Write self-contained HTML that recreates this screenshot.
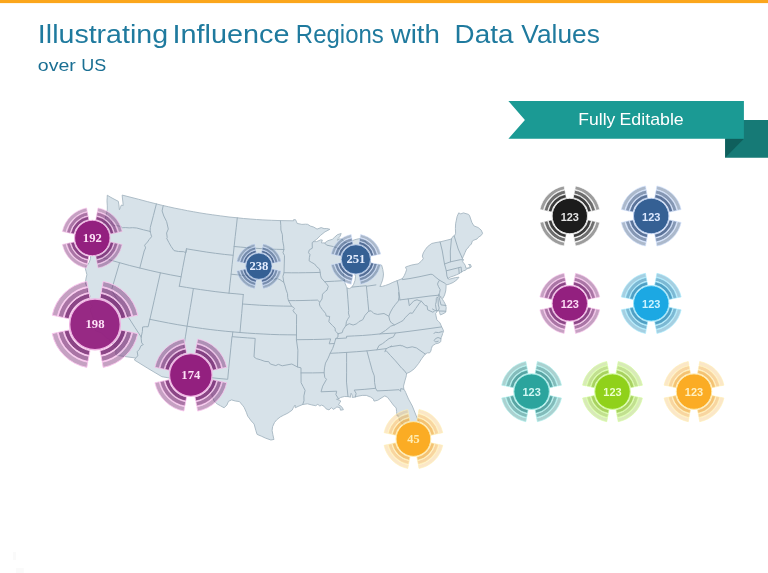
<!DOCTYPE html>
<html lang="en"><head><meta charset="utf-8"><title>Illustrating Influence Regions with Data Values</title>
<style>
html,body{margin:0;padding:0;background:#fff;}
body{width:768px;height:573px;overflow:hidden;position:relative;font-family:"Liberation Sans",sans-serif;}
svg{position:absolute;left:0;top:0;display:block;}
text{font-family:"Liberation Sans",sans-serif;}
text.sf{font-family:"Liberation Serif",serif;font-weight:bold;}
</style></head><body>
<svg width="768" height="573" viewBox="0 0 768 573">
<defs>

<path id="ring0" d="M21.60 4.67A22.1 22.1 0 0 1 4.14 21.71L3.50 18.37A18.7 18.7 0 0 0 18.28 3.95ZM-4.14 21.71A22.1 22.1 0 0 1 -21.60 4.67L-18.28 3.95A18.7 18.7 0 0 0 -3.50 18.37ZM-21.60 -4.67A22.1 22.1 0 0 1 -4.14 -21.71L-3.50 -18.37A18.7 18.7 0 0 0 -18.28 -3.95ZM4.14 -21.71A22.1 22.1 0 0 1 21.60 -4.67L18.28 -3.95A18.7 18.7 0 0 0 3.50 -18.37Z"/>
<path id="ring1" d="M25.75 5.57A26.35 26.35 0 0 1 4.94 25.88L4.25 22.30A22.7 22.7 0 0 0 22.19 4.80ZM-4.94 25.88A26.35 26.35 0 0 1 -25.75 5.57L-22.19 4.80A22.7 22.7 0 0 0 -4.25 22.30ZM-25.75 -5.57A26.35 26.35 0 0 1 -4.94 -25.88L-4.25 -22.30A22.7 22.7 0 0 0 -22.19 -4.80ZM4.94 -25.88A26.35 26.35 0 0 1 25.75 -5.57L22.19 -4.80A22.7 22.7 0 0 0 4.25 -22.30Z"/>
<path id="ring2" d="M29.91 6.47A30.6 30.6 0 0 1 5.73 30.06L5.05 26.47A26.95 26.95 0 0 0 26.34 5.70ZM-5.73 30.06A30.6 30.6 0 0 1 -29.91 6.47L-26.34 5.70A26.95 26.95 0 0 0 -5.05 26.47ZM-29.91 -6.47A30.6 30.6 0 0 1 -5.73 -30.06L-5.05 -26.47A26.95 26.95 0 0 0 -26.34 -5.70ZM5.73 -30.06A30.6 30.6 0 0 1 29.91 -6.47L26.34 -5.70A26.95 26.95 0 0 0 5.05 -26.47Z"/>
</defs>
<rect x="0" y="0" width="768" height="3.1" fill="#FBA61C"/>
<text x="37.88" y="42.7" font-size="25.5" fill="#1F7A9E" textLength="130.17" lengthAdjust="spacingAndGlyphs">Illustrating</text><text x="172.53" y="42.7" font-size="25.5" fill="#1F7A9E" textLength="116.90" lengthAdjust="spacingAndGlyphs">Influence</text><text x="295.82" y="42.7" font-size="25.5" fill="#1F7A9E" textLength="88.02" lengthAdjust="spacingAndGlyphs">Regions</text><text x="390.75" y="42.7" font-size="25.5" fill="#1F7A9E" textLength="49.11" lengthAdjust="spacingAndGlyphs">with</text><text x="454.64" y="42.7" font-size="25.5" fill="#1F7A9E" textLength="58.79" lengthAdjust="spacingAndGlyphs">Data</text><text x="521.36" y="42.7" font-size="25.5" fill="#1F7A9E" textLength="78.53" lengthAdjust="spacingAndGlyphs">Values</text>
<text x="37.84" y="70.9" font-size="16.8" fill="#1A6F93" textLength="38.00" lengthAdjust="spacingAndGlyphs">over</text><text x="81.27" y="70.9" font-size="16.8" fill="#1A6F93" textLength="24.96" lengthAdjust="spacingAndGlyphs">US</text>
<path d="M725.2 120.1H768V157.7H725.2Z" fill="#167A76"/>
<path d="M725.2 138.7H743.9L725.2 157.7Z" fill="#0F5F5C"/>
<path d="M508.4 101.1H743.9V138.7H508.4L524.9 119.9Z" fill="#1B9A94"/>
<text x="578.38" y="124.6" font-size="17" fill="#fff" textLength="36.97" lengthAdjust="spacingAndGlyphs">Fully</text><text x="619.52" y="124.6" font-size="17" fill="#fff" textLength="64.23" lengthAdjust="spacingAndGlyphs">Editable</text>
<rect x="13.1" y="552" width="2.8" height="8" fill="#FAFAFA"/><rect x="16" y="568" width="7.8" height="5" fill="#FAFAFA"/>
<g id="map">
<path d="M107.3 195.2 L110.0 196.9 L114.0 199.1 L118.3 201.3 L118.9 205.0 L119.4 209.8 L120.5 207.2 L121.4 205.0 L123.2 205.6 L122.9 202.0 L122.4 198.0 L122.2 195.1 L138.3 199.2 L147.3 201.6 L156.4 203.9 L162.4 205.4 L168.7 206.8 L174.9 208.2 L181.2 209.4 L187.5 210.7 L193.7 211.8 L199.9 212.9 L206.2 213.9 L212.5 214.8 L220.7 215.9 L229.0 217.0 L237.3 217.8 L243.7 218.5 L250.1 219.0 L256.5 219.5 L262.9 219.9 L271.6 220.3 L280.4 220.6 L287.0 220.7 L293.6 220.8 L293.6 219.7 L295.5 219.7 L296.5 221.8 L297.1 223.4 L301.9 224.4 L305.4 224.2 L307.6 224.3 L310.5 226.1 L313.8 227.1 L317.0 229.1 L321.2 227.6 L324.1 228.6 L326.7 228.5 L329.9 229.3 L324.9 231.9 L320.5 235.4 L316.7 239.3 L313.4 241.7 L316.7 241.6 L320.6 239.9 L322.3 240.0 L321.4 242.9 L324.6 243.0 L327.9 240.7 L332.4 239.3 L334.3 237.5 L337.4 234.7 L341.2 233.5 L340.1 236.2 L338.0 238.7 L337.4 240.3 L339.6 238.8 L342.6 239.6 L344.5 242.3 L347.8 242.7 L351.1 241.4 L354.2 239.9 L358.4 238.8 L360.0 238.5 L360.3 241.0 L363.0 241.0 L365.0 241.0 L366.5 242.7 L368.1 244.9 L365.1 245.4 L362.8 246.8 L360.8 245.5 L357.4 245.3 L354.2 246.9 L352.0 248.5 L350.1 250.4 L349.3 248.7 L347.4 249.4 L345.6 252.3 L344.2 255.8 L342.6 258.3 L341.8 261.2 L344.1 259.1 L345.9 256.1 L347.7 253.8 L347.3 256.5 L345.8 259.9 L345.0 263.3 L344.4 268.2 L343.3 273.0 L343.7 275.9 L344.6 280.6 L345.1 283.4 L346.3 286.4 L347.2 288.2 L349.4 288.6 L351.8 287.2 L353.7 284.2 L355.1 280.2 L355.5 276.3 L354.4 272.6 L352.7 268.9 L352.8 265.1 L353.8 261.2 L354.5 257.3 L356.6 254.9 L357.6 254.1 L357.9 257.5 L359.1 255.4 L359.1 252.6 L361.4 251.6 L360.8 249.3 L362.7 247.6 L366.5 248.6 L369.3 252.0 L370.0 258.0 L370.4 263.6 L374.0 264.6 L378.5 264.4 L381.7 265.3 L382.8 269.5 L383.5 273.9 L383.2 277.0 L382.5 280.2 L381.3 283.5 L379.9 286.5 L382.5 286.3 L385.6 285.4 L389.0 284.2 L392.9 282.3 L397.1 280.7 L402.4 278.6 L404.2 275.8 L405.5 272.8 L406.6 269.7 L405.5 267.1 L408.5 266.0 L411.8 265.0 L415.0 264.4 L418.1 263.9 L421.2 261.3 L423.3 258.7 L422.3 256.1 L423.3 252.9 L425.3 249.6 L427.5 246.7 L431.7 243.5 L436.0 242.5 L440.1 241.9 L446.0 240.4 L451.4 239.0 L452.9 236.4 L454.5 235.9 L455.6 233.3 L455.4 228.5 L455.6 223.8 L457.1 216.5 L458.7 212.9 L460.8 213.9 L463.4 212.9 L468.6 214.4 L469.7 216.0 L471.8 222.3 L473.9 225.9 L478.1 227.5 L481.2 230.1 L482.6 233.3 L481.2 235.4 L478.1 237.5 L477.0 239.0 L473.9 240.1 L472.3 241.1 L471.3 244.3 L469.7 245.3 L468.1 247.9 L466.6 249.0 L465.0 252.6 L463.4 256.3 L462.4 258.4 L463.4 259.5 L462.6 261.8 L464.2 263.7 L465.4 265.7 L465.8 268.1 L469.7 268.1 L471.3 266.9 L470.5 264.5 L468.5 264.5 L470.1 265.7 L469.7 267.3 L466.6 269.2 L465.0 270.4 L463.4 270.8 L461.5 272.0 L459.1 273.6 L456.5 274.8 L453.5 276.0 L450.5 277.0 L447.9 278.5 L449.0 279.3 L452.0 278.5 L455.4 277.6 L459.0 277.2 L456.9 279.8 L453.3 282.4 L449.6 284.0 L446.9 284.8 L446.1 284.1 L446.0 288.0 L445.7 291.0 L444.6 295.0 L442.8 298.5 L441.5 297.3 L439.8 296.0 L439.0 294.8 L440.0 296.8 L441.5 298.5 L442.5 299.3 L443.8 301.5 L445.1 303.8 L446.2 307.5 L445.9 310.5 L445.5 312.4 L443.0 313.8 L440.4 314.9 L439.6 312.6 L438.6 310.2 L437.6 310.6 L436.6 312.4 L435.6 313.5 L435.9 315.2 L436.8 319.6 L438.5 321.5 L439.9 322.7 L441.7 326.9 L442.8 329.0 L443.6 331.2 L442.6 333.5 L442.2 335.2 L440.9 338.1 L440.8 341.6 L438.9 343.0 L435.7 343.8 L432.4 345.8 L431.4 348.5 L430.8 351.2 L429.6 352.9 L427.6 352.8 L425.3 353.9 L421.6 358.8 L418.5 363.6 L414.3 368.8 L410.1 371.9 L406.5 373.5 L406.4 375.6 L404.9 380.8 L403.5 386.1 L403.8 389.2 L405.0 391.0 L405.7 392.5 L408.5 399.0 L412.3 406.0 L415.1 413.0 L417.9 420.0 L420.4 424.0 L421.0 428.1 L421.2 432.1 L420.0 436.3 L418.2 438.3 L414.2 439.4 L412.8 436.0 L410.5 433.1 L407.3 430.9 L404.9 427.7 L402.9 424.7 L400.5 421.7 L398.9 419.0 L399.0 416.2 L397.0 415.8 L396.6 411.5 L396.2 408.0 L393.3 405.0 L390.2 400.8 L387.5 397.3 L384.8 395.9 L382.1 397.5 L377.7 400.3 L374.0 401.1 L373.4 399.0 L370.7 397.1 L366.3 395.4 L362.2 395.4 L358.0 396.2 L355.4 396.9 L352.3 397.5 L352.1 395.0 L351.1 393.2 L350.4 396.1 L350.6 397.2 L348.0 396.6 L344.3 396.5 L340.6 397.5 L338.6 398.9 L336.5 399.3 L339.1 400.1 L340.8 401.0 L339.6 402.9 L338.5 404.9 L341.1 406.2 L342.5 408.0 L343.4 409.7 L340.5 410.2 L339.9 407.7 L336.9 406.9 L335.3 408.2 L333.2 409.4 L331.5 407.6 L329.0 409.9 L326.0 408.8 L324.2 406.4 L321.7 405.1 L319.6 406.1 L317.9 404.1 L315.8 405.7 L311.6 404.9 L307.4 403.8 L302.7 404.5 L298.1 406.4 L295.2 407.8 L295.2 405.0 L293.5 407.3 L292.2 410.1 L287.9 413.1 L283.6 415.2 L280.2 417.0 L276.7 419.8 L274.5 422.5 L272.6 426.7 L272.1 430.5 L272.8 434.3 L273.6 438.1 L274.0 439.4 L270.9 440.0 L265.7 438.2 L261.4 436.2 L257.1 434.4 L255.9 430.7 L254.1 424.0 L251.3 421.0 L247.7 416.1 L246.3 412.2 L244.1 407.3 L242.5 405.3 L239.5 401.6 L235.3 401.0 L231.6 399.9 L228.5 401.3 L226.9 405.0 L224.1 407.8 L220.5 405.8 L217.3 404.0 L214.2 401.3 L212.2 396.4 L211.2 391.0 L207.4 387.9 L203.1 382.4 L199.9 378.6 L199.3 378.3 L185.7 376.4 L185.1 380.6 L173.5 378.7 L161.9 376.7 L147.6 368.2 L134.4 360.0 L135.6 358.0 L126.0 356.7 L116.4 355.3 L115.7 353.7 L115.9 352.1 L115.8 348.6 L114.1 345.6 L111.7 342.5 L109.4 341.7 L109.7 339.4 L107.1 338.5 L104.2 335.7 L101.3 332.9 L95.6 330.8 L94.7 329.1 L96.2 324.1 L95.2 321.3 L92.9 317.6 L91.7 313.8 L90.2 310.9 L90.7 308.0 L92.4 306.5 L91.0 304.6 L89.2 301.6 L89.4 298.1 L90.2 296.1 L89.2 294.5 L87.3 293.0 L87.9 290.1 L86.5 286.2 L85.3 282.8 L86.1 278.0 L86.9 274.7 L86.1 271.5 L85.1 267.7 L87.6 264.9 L89.2 262.4 L90.5 258.8 L90.6 256.4 L91.3 254.1 L91.3 250.1 L91.6 245.8 L94.4 242.1 L97.3 238.0 L99.5 232.7 L101.3 228.4 L103.7 223.1 L105.3 218.7 L105.7 216.3 L106.7 212.7 L107.3 209.9 L107.3 205.9 L107.0 200.9 L107.2 197.8Z" fill="#D7E2E9" stroke="#A6B7C2" stroke-width="0.9" stroke-linejoin="round"/>
<path d="M105.7 216.3 L108.9 217.6 L110.5 218.9 L112.2 220.1 L112.0 223.3 L113.8 225.7 L117.3 225.7 L120.6 226.4 L122.3 227.7 L125.8 227.6 L129.2 227.9 L132.7 227.7 L136.7 228.0 L143.4 229.8 L150.1 231.4 M156.4 203.9 L153.4 215.6 L150.3 227.4 L150.1 231.4 M150.1 231.4 L150.7 233.5 L151.6 236.7 L149.2 239.5 L147.5 242.0 L144.6 245.2 L145.6 247.9 L144.2 251.0 L139.8 268.0 M91.3 254.1 L98.3 256.4 L105.4 258.6 L112.5 260.7 L119.6 262.7 L129.7 265.5 L139.8 268.0 L150.1 270.5 L160.4 272.8 L170.7 274.9 L181.1 276.8 M119.6 262.7 L116.9 271.9 L114.2 281.0 L111.5 290.2 L117.3 299.5 L123.3 308.7 L129.0 318.2 L135.0 327.6 L141.2 337.0 M141.2 337.0 L141.2 338.9 L141.7 342.9 L143.3 344.6 L141.0 345.7 L139.4 349.3 L137.2 351.7 L137.9 355.8 L135.6 358.0 M141.2 337.0 L142.4 331.4 L142.6 327.0 L145.4 326.7 L148.1 326.8 L149.9 319.3 M149.9 319.3 L152.0 310.0 L154.1 300.7 L156.2 291.4 L158.3 282.1 L160.4 272.8 M149.9 319.3 L159.2 321.2 L168.5 323.0 L177.8 324.7 L187.1 326.2 L194.8 327.4 L202.4 328.5 L210.1 329.5 L217.6 330.4 L225.2 331.2 L232.8 331.9 L240.0 332.5 L247.7 333.1 L255.4 333.6 L263.1 334.0 L270.7 334.4 L279.3 334.7 L287.9 334.8 L296.5 334.9 M163.2 205.6 L162.1 210.9 L163.8 216.0 L166.6 221.6 L168.3 229.0 L166.6 233.0 L167.2 237.5 L166.6 238.1 L168.9 242.6 L171.2 246.6 L174.0 250.6 L178.5 251.5 L183.7 251.7 L185.9 252.8 L186.5 250.0 M186.4 248.8 L193.1 249.9 L199.9 251.0 L206.7 252.1 L215.5 253.3 L224.3 254.4 L233.2 255.3 M186.4 248.8 L184.6 258.1 L182.8 267.4 L181.1 276.8 L179.3 286.2 M179.3 286.2 L186.4 287.4 L193.4 288.5 L200.6 289.6 L207.9 290.6 L215.1 291.6 L229.0 293.2 L236.1 293.8 L243.3 294.5 M193.4 288.5 L191.9 298.0 L190.3 307.4 L188.7 316.8 L187.1 326.2 L185.4 336.9 L183.6 347.6 L181.8 358.2 L180.0 368.9 L178.3 379.5 M237.3 217.8 L236.3 227.2 L235.2 236.5 L234.2 245.9 L233.2 255.3 L232.1 264.7 L231.1 274.2 L230.0 283.7 L229.0 293.2 M234.1 246.5 L240.8 247.1 L247.6 247.7 L254.3 248.2 L261.0 248.6 L268.6 249.0 L276.3 249.3 L283.9 249.5 M231.1 274.2 L238.1 274.9 L245.2 275.5 L252.2 276.0 L260.9 276.6 L269.6 277.0 L273.0 279.3 L277.3 278.6 L280.0 279.7 L282.1 281.2 L283.8 282.3 M243.3 294.5 L242.5 304.0 L241.7 313.5 L240.8 323.0 L240.0 332.5 M242.5 304.0 L251.1 304.6 L259.7 305.2 L268.3 305.6 L276.0 305.9 L283.8 306.1 L291.5 306.2 M232.8 331.9 L232.3 336.7 L232.0 336.6 L230.9 347.3 L229.8 358.0 L228.7 368.7 L227.7 379.3 L218.0 378.4 L208.4 377.3 L198.9 376.1 L199.3 378.3 M232.3 336.7 L239.9 337.3 L247.6 337.9 L255.2 338.4 L254.0 356.9 L256.3 358.6 L260.2 359.7 L264.9 361.4 L268.8 361.7 L270.3 364.0 L275.8 365.6 L278.3 364.3 L282.2 365.8 L287.0 364.9 L291.8 364.0 L297.5 367.0 M296.5 334.9 L296.4 339.7 L297.9 350.2 L297.5 367.0 L301.0 367.9 L301.0 372.9 L301.1 382.7 L303.0 386.4 L305.1 390.4 L303.9 395.9 L304.0 400.7 L302.7 404.5 M301.0 372.9 L312.6 372.9 L324.1 372.7 M338.1 333.7 L337.9 337.1 L335.7 338.7 L334.4 343.5 L332.7 348.4 L330.2 353.3 L328.1 358.2 L325.5 363.1 L324.5 367.9 L324.1 372.7 L324.8 377.4 L326.5 379.3 L322.7 386.1 L321.0 391.8 L336.7 391.2 L335.9 394.6 L338.6 398.9 M296.4 339.7 L305.0 339.6 L313.6 339.5 L322.1 339.3 L330.7 338.9 L329.2 343.8 L334.4 343.5 M338.1 333.7 L335.3 331.0 L335.1 328.1 L332.3 325.4 L328.8 321.7 L329.4 318.4 L329.7 316.4 L326.3 316.1 L325.5 313.3 L322.4 309.6 L320.1 306.3 L319.3 303.9 L319.8 302.2 L322.0 299.0 L322.5 294.2 L325.3 291.3 L327.0 290.2 L328.3 286.3 L326.4 283.6 L324.6 281.7 L321.3 278.0 L320.5 275.2 L320.2 272.4 L319.6 269.1 L316.8 266.8 L314.6 264.0 L311.2 262.2 L309.1 260.8 L309.4 257.5 L310.0 254.6 L308.5 252.7 L309.3 249.9 L312.3 248.2 L312.2 242.6 L313.4 241.7 M284.0 272.7 L291.3 272.8 L298.5 272.8 L305.8 272.7 L313.0 272.6 L320.2 272.4 M280.4 220.6 L280.8 225.3 L280.9 230.0 L282.4 234.7 L282.6 240.4 L283.7 246.1 L283.9 249.5 L283.0 252.7 L284.5 255.6 L284.0 272.7 L282.9 276.4 L283.8 282.3 L284.8 285.1 L286.1 289.9 L287.5 293.7 L287.7 297.5 L288.4 300.4 L290.5 304.2 L291.5 306.2 L293.8 307.6 L294.5 308.6 L293.0 310.5 L294.5 312.9 L296.6 314.7 L296.5 324.8 L296.5 334.9 M288.4 300.6 L295.7 300.6 L303.0 300.5 L310.2 300.3 L317.5 300.1 L319.8 302.2 M344.2 255.8 L342.3 253.5 L342.4 250.7 L340.3 249.4 L336.9 247.7 L333.5 246.6 L326.6 245.1 L324.6 243.0 M324.6 281.7 L334.6 281.2 L344.6 280.6 M347.0 288.1 L347.9 299.3 L348.7 310.5 L348.4 312.9 L349.4 316.7 L347.7 319.2 L346.4 321.7 L345.9 325.6 M338.1 333.7 L342.2 332.7 L343.2 329.6 L345.9 325.6 L349.2 323.7 L353.1 325.0 L356.7 323.8 L358.8 321.7 L362.8 319.7 L365.0 315.3 L368.8 311.1 L371.2 310.8 L373.7 313.4 L377.6 314.4 L384.0 313.5 L388.8 316.2 L390.5 312.0 L392.7 308.1 L395.5 304.3 L398.4 300.9 L399.0 297.0 L398.6 292.5 M397.1 280.7 L398.4 287.0 L399.9 299.9 M368.8 311.1 L367.6 298.7 L366.4 286.3 M352.0 287.1 L359.2 286.4 L366.3 285.7 L366.4 286.3 L375.9 284.9 M335.7 338.7 L346.6 338.0 L346.5 336.3 L354.4 335.9 L362.3 335.5 L371.2 334.8 L380.0 333.9 L395.5 333.0 L410.0 331.2 L425.0 329.2 L441.5 326.9 M380.0 333.9 L385.6 330.4 L390.7 326.2 L394.6 324.9 L391.5 323.0 L389.8 320.5 L388.8 316.2 M394.6 324.9 L400.3 322.0 L403.1 320.5 L405.1 317.7 L410.0 312.9 L412.4 313.3 L415.7 308.5 L420.0 302.3 L421.5 301.3 L425.1 305.5 L427.1 305.9 L427.6 309.8 L432.8 312.2 L434.3 311.3 M421.5 301.3 L420.0 300.9 L417.0 299.8 L413.8 300.9 L409.3 305.7 L408.2 298.9 M399.9 299.9 L408.2 298.9 L420.0 297.3 L430.0 296.0 L438.6 295.2 M438.6 295.4 L439.0 294.8 M438.6 295.4 L441.0 304.9 L446.0 305.5 M439.0 294.8 L438.3 295.9 L439.6 292.5 L440.2 289.6 L438.6 286.8 L437.5 284.1 L438.3 282.0 L439.5 280.2 L436.0 277.5 L432.8 274.7 L431.0 274.2 L420.0 276.6 L410.0 278.5 L402.4 279.6 L402.4 278.6 M439.5 280.2 L445.3 283.5 M447.9 278.5 L446.9 276.0 L446.3 270.8 L444.5 264.0 L442.3 251.0 L440.1 241.9 M450.5 261.8 L450.3 251.0 L450.9 245.0 L451.4 239.0 M444.5 264.0 L450.5 261.8 L460.3 259.7 L462.9 259.8 M446.3 270.8 L458.7 267.7 L461.1 267.0 L461.5 272.0 M458.7 267.7 L459.2 273.4 M462.4 258.4 L458.2 249.0 L454.2 236.0 M439.5 311.0 L445.8 311.2 M395.5 333.0 L393.4 336.9 L389.0 338.6 L385.5 341.3 L382.6 343.6 L378.9 345.6 L376.9 349.8 M386.3 348.6 L376.9 349.8 L366.9 350.9 L356.8 351.7 L346.6 352.4 L338.4 352.9 L330.2 353.3 M386.3 348.6 L391.6 346.0 L390.2 346.8 L400.7 345.2 L400.9 346.0 L402.0 345.6 L407.0 347.9 L412.2 346.8 L416.4 347.9 L425.3 354.1 M386.3 348.6 L384.8 351.7 L386.0 350.5 L390.5 355.5 L395.5 360.9 L401.8 368.3 L404.0 370.2 L406.5 373.5 M366.9 350.9 L369.6 360.8 L372.3 370.7 L374.3 375.9 L374.6 382.6 L375.6 388.3 L377.1 390.9 L388.1 390.4 L399.1 389.7 L400.6 391.4 L400.7 388.7 L403.8 389.2 M375.6 388.3 L364.9 389.3 L354.2 390.1 L356.1 393.3 L355.4 396.9 M346.6 352.4 L346.6 362.3 L346.6 372.2 L346.5 382.1 L348.0 396.6 M438.6 310.2 L439.2 308.0 L438.3 305.0 L438.2 301.0 L437.9 298.5 L437.3 297.2 M437.3 297.2 L436.3 298.5 L436.2 302.0 L435.5 304.5 L436.0 308.0 L436.6 310.8 L437.6 310.6 M436.4 311.0 L434.5 310.2 L432.5 309.0 M442.2 331.6 L438.5 332.6 L435.2 332.2 L434.0 333.6 M441.0 338.6 L438.0 337.5 L435.5 338.6 L434.2 340.5 L435.6 342.0 L438.2 341.2" fill="none" stroke="#9AADB9" stroke-width="0.95" stroke-linejoin="round" stroke-linecap="round"/>
</g>
<g transform="translate(92.3 238.0)">
<g transform="scale(1.0)" stroke="#FAC4EE" stroke-width="0.64">
<use href="#ring0" fill="#74206E" fill-opacity="0.83"/>
<use href="#ring1" fill="#74206E" fill-opacity="0.62"/>
<use href="#ring2" fill="#74206E" fill-opacity="0.42"/>
<circle r="17.7" fill="#93207F" fill-opacity="1" stroke="#EEB0E1" stroke-width="1.0"/>
</g>
<text x="0" y="3.9" text-anchor="middle" font-size="11.7" fill="#FDE0F6" class="sf" textLength="19.0" lengthAdjust="spacingAndGlyphs">192</text>
</g>
<g transform="translate(95.0 324.4)">
<g transform="scale(1.43)" stroke="#FAC4EE" stroke-width="0.64">
<use href="#ring0" fill="#74206E" fill-opacity="0.83"/>
<use href="#ring1" fill="#74206E" fill-opacity="0.62"/>
<use href="#ring2" fill="#74206E" fill-opacity="0.42"/>
<circle r="17.7" fill="#93207F" fill-opacity="0.96" stroke="#EEB0E1" stroke-width="1.0"/>
</g>
<text x="0" y="3.9" text-anchor="middle" font-size="11.7" fill="#FDE0F6" class="sf" textLength="19.0" lengthAdjust="spacingAndGlyphs">198</text>
</g>
<g transform="translate(190.8 375.0)">
<g transform="scale(1.2)" stroke="#FAC4EE" stroke-width="0.64">
<use href="#ring0" fill="#74206E" fill-opacity="0.83"/>
<use href="#ring1" fill="#74206E" fill-opacity="0.62"/>
<use href="#ring2" fill="#74206E" fill-opacity="0.42"/>
<circle r="17.7" fill="#93207F" fill-opacity="1" stroke="#EEB0E1" stroke-width="1.0"/>
</g>
<text x="0" y="3.9" text-anchor="middle" font-size="11.7" fill="#FDE0F6" class="sf" textLength="19.0" lengthAdjust="spacingAndGlyphs">174</text>
</g>
<g transform="translate(258.9 266.2)">
<g transform="scale(0.74)" stroke="#D3E2FF" stroke-width="0.64">
<use href="#ring0" fill="#3A5784" fill-opacity="0.83"/>
<use href="#ring1" fill="#3A5784" fill-opacity="0.62"/>
<use href="#ring2" fill="#3A5784" fill-opacity="0.42"/>
<circle r="17.7" fill="#356094" fill-opacity="1" stroke="#C0D2F2" stroke-width="1.0"/>
</g>
<text x="0" y="3.9" text-anchor="middle" font-size="11.7" fill="#E6EEFF" class="sf" textLength="19.0" lengthAdjust="spacingAndGlyphs">238</text>
</g>
<g transform="translate(355.9 259.4)">
<g transform="scale(0.83)" stroke="#D3E2FF" stroke-width="0.64">
<use href="#ring0" fill="#3A5784" fill-opacity="0.83"/>
<use href="#ring1" fill="#3A5784" fill-opacity="0.62"/>
<use href="#ring2" fill="#3A5784" fill-opacity="0.42"/>
<circle r="17.7" fill="#356094" fill-opacity="1" stroke="#C0D2F2" stroke-width="1.0"/>
</g>
<text x="0" y="3.9" text-anchor="middle" font-size="11.7" fill="#E6EEFF" class="sf" textLength="19.0" lengthAdjust="spacingAndGlyphs">251</text>
</g>
<g transform="translate(413.4 439.0)">
<g transform="scale(0.98)" stroke="#FFF0B5" stroke-width="0.64">
<use href="#ring0" fill="#F0A838" fill-opacity="0.7"/>
<use href="#ring1" fill="#F0A838" fill-opacity="0.48"/>
<use href="#ring2" fill="#F0A838" fill-opacity="0.28"/>
<circle r="17.7" fill="#FBAC24" fill-opacity="1" stroke="#FFE8A4" stroke-width="1.0"/>
</g>
<text x="0" y="3.9" text-anchor="middle" font-size="11.7" fill="#FFEDB4" class="sf" textLength="12.3" lengthAdjust="spacingAndGlyphs">45</text>
</g>
<g transform="translate(569.8 216.0)">
<g transform="scale(1.0)" stroke="#FFFFFF" stroke-width="0.64">
<use href="#ring0" fill="#141414" fill-opacity="0.83"/>
<use href="#ring1" fill="#141414" fill-opacity="0.62"/>
<use href="#ring2" fill="#141414" fill-opacity="0.42"/>
<circle r="17.7" fill="#1C1C1C" fill-opacity="1" stroke="#E4E4E4" stroke-width="1.0"/>
</g>
<text x="0" y="4.5" text-anchor="middle" font-size="10.0" fill="#E4E4E4" font-weight="bold" textLength="18.3" lengthAdjust="spacingAndGlyphs">123</text>
</g>
<g transform="translate(651.2 216.0)">
<g transform="scale(1.0)" stroke="#D3E2FF" stroke-width="0.64">
<use href="#ring0" fill="#3A5784" fill-opacity="0.83"/>
<use href="#ring1" fill="#3A5784" fill-opacity="0.62"/>
<use href="#ring2" fill="#3A5784" fill-opacity="0.42"/>
<circle r="17.7" fill="#356094" fill-opacity="1" stroke="#C0D2F2" stroke-width="1.0"/>
</g>
<text x="0" y="4.5" text-anchor="middle" font-size="10.0" fill="#DCE8FF" font-weight="bold" textLength="18.3" lengthAdjust="spacingAndGlyphs">123</text>
</g>
<g transform="translate(569.8 303.4)">
<g transform="scale(1.0)" stroke="#FAC4EE" stroke-width="0.64">
<use href="#ring0" fill="#74206E" fill-opacity="0.83"/>
<use href="#ring1" fill="#74206E" fill-opacity="0.62"/>
<use href="#ring2" fill="#74206E" fill-opacity="0.42"/>
<circle r="17.7" fill="#93207F" fill-opacity="1" stroke="#EEB0E1" stroke-width="1.0"/>
</g>
<text x="0" y="4.5" text-anchor="middle" font-size="10.0" fill="#FBD9F4" font-weight="bold" textLength="18.3" lengthAdjust="spacingAndGlyphs">123</text>
</g>
<g transform="translate(651.2 303.4)">
<g transform="scale(1.0)" stroke="#A8ECFF" stroke-width="0.64">
<use href="#ring0" fill="#2B8CB8" fill-opacity="0.83"/>
<use href="#ring1" fill="#2B8CB8" fill-opacity="0.62"/>
<use href="#ring2" fill="#2B8CB8" fill-opacity="0.42"/>
<circle r="17.7" fill="#1CA8E3" fill-opacity="1" stroke="#97E4FC" stroke-width="1.0"/>
</g>
<text x="0" y="4.5" text-anchor="middle" font-size="10.0" fill="#CDF3FF" font-weight="bold" textLength="18.3" lengthAdjust="spacingAndGlyphs">123</text>
</g>
<g transform="translate(531.6 391.6)">
<g transform="scale(1.0)" stroke="#AEF3EF" stroke-width="0.64">
<use href="#ring0" fill="#379290" fill-opacity="0.83"/>
<use href="#ring1" fill="#379290" fill-opacity="0.62"/>
<use href="#ring2" fill="#379290" fill-opacity="0.42"/>
<circle r="17.7" fill="#2BA49D" fill-opacity="1" stroke="#9EEAE5" stroke-width="1.0"/>
</g>
<text x="0" y="4.5" text-anchor="middle" font-size="10.0" fill="#D2F7F4" font-weight="bold" textLength="18.3" lengthAdjust="spacingAndGlyphs">123</text>
</g>
<g transform="translate(612.5 391.6)">
<g transform="scale(1.0)" stroke="#D6FFA0" stroke-width="0.64">
<use href="#ring0" fill="#86BF22" fill-opacity="0.72"/>
<use href="#ring1" fill="#86BF22" fill-opacity="0.5"/>
<use href="#ring2" fill="#86BF22" fill-opacity="0.32"/>
<circle r="17.7" fill="#90D11A" fill-opacity="1" stroke="#CEF990" stroke-width="1.0"/>
</g>
<text x="0" y="4.5" text-anchor="middle" font-size="10.0" fill="#ECFFCC" font-weight="bold" textLength="18.3" lengthAdjust="spacingAndGlyphs">123</text>
</g>
<g transform="translate(694.0 391.6)">
<g transform="scale(1.0)" stroke="#FFF0B5" stroke-width="0.64">
<use href="#ring0" fill="#F0A838" fill-opacity="0.7"/>
<use href="#ring1" fill="#F0A838" fill-opacity="0.48"/>
<use href="#ring2" fill="#F0A838" fill-opacity="0.28"/>
<circle r="17.7" fill="#FBAC24" fill-opacity="1" stroke="#FFE8A4" stroke-width="1.0"/>
</g>
<text x="0" y="4.5" text-anchor="middle" font-size="10.0" fill="#FFF0C0" font-weight="bold" textLength="18.3" lengthAdjust="spacingAndGlyphs">123</text>
</g>
</svg></body></html>
